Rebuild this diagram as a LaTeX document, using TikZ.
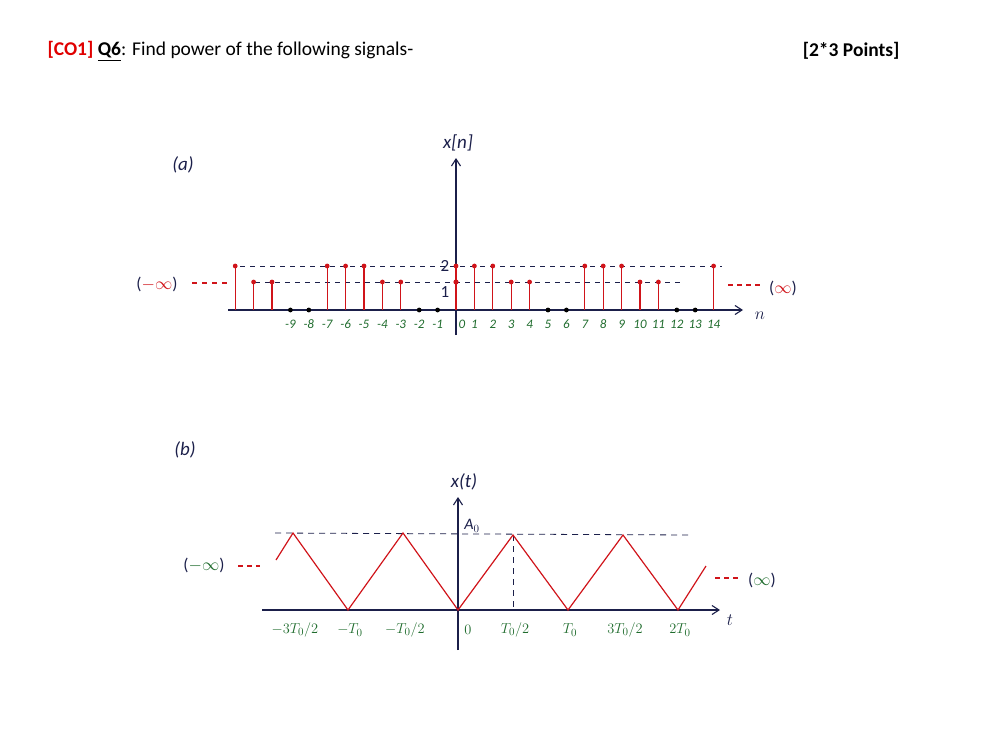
\documentclass[tikz,border=0pt]{standalone}
\usepackage{fontspec}
\setmainfont{Carlito}
\usetikzlibrary{arrows.meta}
\definecolor{sred}{HTML}{D0141A}
\definecolor{sgreen}{HTML}{1E6B2C}
\definecolor{snavy}{HTML}{1B1F4A}
\definecolor{hred}{HTML}{E00000}
\tikzset{
 axisline/.style={snavy,line width=1.1pt,-{Straight Barb[length=7pt,width=9pt]}},
 stemline/.style={sred,line width=1.3pt},
 levdash/.style={snavy,dash pattern=on 5pt off 5pt,line width=0.8pt},
 nlab/.style={sgreen,font=\fontsize{13}{13}\selectfont\itshape},
 tlab/.style={sgreen,font=\fontsize{15}{15}\selectfont\itshape},
 hand/.style={snavy,font=\fontsize{19}{19}\selectfont\itshape},
}
\begin{document}
\begin{tikzpicture}[x=1pt,y=-1pt]
\useasboundingbox (0,0) rectangle (999,739);
% header
\node[anchor=west,font=\fontsize{19.5}{19.5}\selectfont] (hdr) at (44,51) {\textcolor{hred}{\textbf{[CO1]}} \textbf{\underline{Q6}}: Find power of the following signals-};
\node[anchor=east,font=\fontsize{19.5}{19.5}\selectfont\bfseries] (pts) at (903,51) {[2*3 Points]};
% ---------- (a)
\node[hand] (la) at (183,165) {(a)};
\coordinate (ax0) at (228,310); \coordinate (ax1) at (743,310);
\draw[axisline] (ax0) -- (ax1);
\node[hand] (nlb) at (760,316) {$n$};
\coordinate (ay0) at (456,335); \coordinate (ay1) at (456,158);
\draw[axisline] (ay0) -- (ay1);
\node[hand] (xn) at (458,143) {x[n]};
\draw[levdash] (240,266) -- (722,266);
\draw[levdash] (255,282) -- (680,282);
\node[snavy,font=\fontsize{17}{17}\selectfont] (l2) at (445,266) {2};
\node[snavy,font=\fontsize{17}{17}\selectfont] (l1) at (445,292) {1};
\foreach \n/\v in {-12/2,-11/1,-10/1,-9/0,-8/0,-7/2,-6/2,-5/2,-4/1,-3/1,-2/0,-1/0,0/2,1/2,2/2,3/1,4/1,5/0,6/0,7/2,8/2,9/2,10/1,11/1,12/0,13/0,14/2}{
  \pgfmathsetmacro{\xx}{456+18.4*\n}
  \ifnum\v=0
    \fill[black] (\xx,310) circle (2.4pt);
  \else
    \pgfmathsetmacro{\yy}{\v==2 ? 266 : 282}
    \draw[stemline] (\xx,310) -- (\xx,\yy);
    \fill[sred] (\xx,\yy) circle (2.4pt);
  \fi
}
\fill[sred] (456,282) circle (2.6pt);
\foreach \n in {-9,...,14}{
  \pgfmathsetmacro{\xx}{456+18.4*\n+(\n==0 ? 6 : 0)}
  \node[nlab] at (\xx,324) {\n};
}
\node[font=\fontsize{17}{17}\selectfont] (mia) at (157,284) {\textcolor{snavy}{(}\textcolor{sred}{$-\infty$}\textcolor{snavy}{)}};
\draw[sred,dash pattern=on 5pt off 5pt,line width=1.1pt] (192,283) -- (228,283);
\draw[sred,dash pattern=on 5pt off 4pt,line width=1.1pt] (728,285) -- (762,285);
\node[font=\fontsize{17}{17}\selectfont] (pia) at (783,288) {\textcolor{snavy}{(}\textcolor{sred}{$\infty$}\textcolor{snavy}{)}};
% ---------- (b)
\node[hand] (lb) at (185,450) {(b)};
\coordinate (bx0) at (262,610); \coordinate (bx1) at (720,610);
\draw[axisline] (bx0) -- (bx1);
\node[hand] (tlb) at (730,620) {$t$};
\coordinate (by0) at (458,650); \coordinate (by1) at (458,497);
\draw[axisline] (by0) -- (by1);
\node[hand] (xt) at (464,482) {x(t)};
\node[hand,font=\fontsize{16}{16}\selectfont\itshape] (A0) at (472,526) {A$_0$};
\draw[levdash,dash pattern=on 6pt off 5pt] (275,533) -- (690,535);
\draw[snavy,dash pattern=on 6pt off 5pt,line width=0.8pt] (513,535) -- (513,610);
\draw[sred,line width=1.2pt] (276,560) -- (293,533) -- (348,610) -- (403,533) -- (458,610) -- (513,535) -- (568,610) -- (623,535) -- (678,610) -- (706,566);
\foreach \x/\t in {293/{$-3T_0/2$},348/{$-T_0$},403/{$-T_0/2$},466/{$0$},513/{$T_0/2$},568/{$T_0$},623/{$3T_0/2$},678/{$2T_0$}}{
  \node[tlab] at (\x+2,630) {\t};
}
\node[font=\fontsize{17}{17}\selectfont] (mib) at (204,565) {\textcolor{snavy}{(}\textcolor{sgreen}{$-\infty$}\textcolor{snavy}{)}};
\draw[sred,dash pattern=on 5pt off 4pt,line width=1.1pt] (238,566) -- (260,566);
\draw[sred,dash pattern=on 5pt off 4pt,line width=1.1pt] (715,578) -- (740,578);
\node[font=\fontsize{17}{17}\selectfont] (pib) at (762,580) {\textcolor{snavy}{(}\textcolor{sgreen}{$\infty$}\textcolor{snavy}{)}};
\end{tikzpicture}
\end{document}
